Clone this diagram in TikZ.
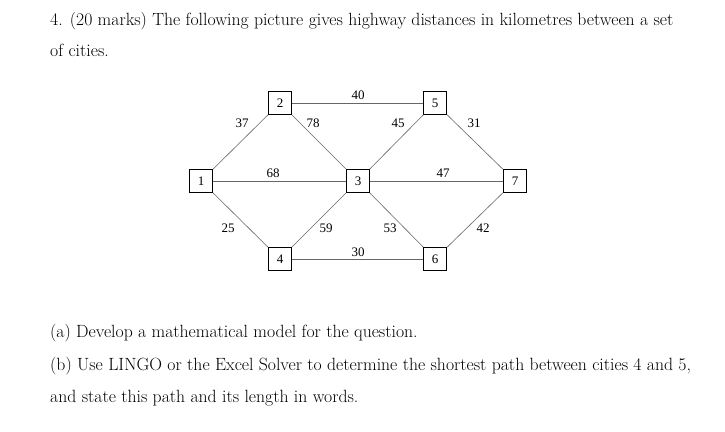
\documentclass[tikz,border=0pt]{standalone}
\usepackage{fontspec}
\newfontfamily\tms{Liberation Serif}
\begin{document}
\begin{tikzpicture}[x=1pt,y=-1pt,
  city/.style={draw,line width=1.1pt,minimum size=23pt,inner sep=0pt,font=\tms\fontsize{13}{13}\selectfont},
  road/.style={draw=black!60,line width=0.6pt},
  wt/.style={font=\tms\fontsize{13}{13}\selectfont,inner sep=1pt},
  txt/.style={anchor=base west,inner sep=0pt,font=\fontsize{17.7}{21}\selectfont}]
\useasboundingbox[fill=white] (0,0) rectangle (725,431);
\node[txt] (l1) at (50,25) {4. (20 marks) The following picture gives highway distances in kilometres between a set};
\node[txt] (l2) at (50,56) {of cities.};
\node[txt] (l3) at (50,337) {(a) Develop a mathematical model for the question.};
\node[txt] (l4) at (50,370) {(b) Use LINGO or the Excel Solver to determine the shortest path between cities 4 and 5,};
\node[txt] (l5) at (50,402) {and state this path and its length in words.};
\node[city] (n1) at (201,181) {1};
\node[city] (n2) at (280,103) {2};
\node[city] (n3) at (358,181) {3};
\node[city] (n5) at (435,103) {5};
\node[city] (n7) at (515,181) {7};
\node[city] (n4) at (280,259) {4};
\node[city] (n6) at (435,259) {6};
\draw[road] (n1) -- (n2);
\draw[road] (n1) -- (n3);
\draw[road] (n1) -- (n4);
\draw[road] (n2) -- (n5);
\draw[road] (n2) -- (n3);
\draw[road] (n3) -- (n5);
\draw[road] (n3) -- (n7);
\draw[road] (n3) -- (n4);
\draw[road] (n3) -- (n6);
\draw[road] (n4) -- (n6);
\draw[road] (n5) -- (n7);
\draw[road] (n6) -- (n7);
\node[wt] (w12) at (242,123) {37};
\node[wt] (w23) at (313,123) {78};
\node[wt] (w25) at (358,95) {40};
\node[wt] (w35) at (398,123) {45};
\node[wt] (w57) at (474,123) {31};
\node[wt] (w13) at (273,173) {68};
\node[wt] (w37) at (443,173) {47};
\node[wt] (w14) at (228,228) {25};
\node[wt] (w34) at (326,228) {59};
\node[wt] (w36) at (390,228) {53};
\node[wt] (w67) at (483,228) {42};
\node[wt] (w46) at (358,252) {30};
\end{tikzpicture}
\end{document}
